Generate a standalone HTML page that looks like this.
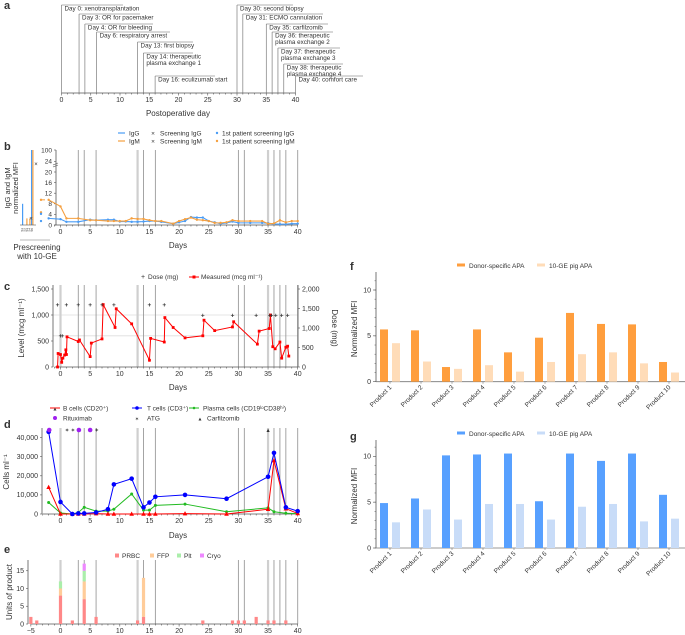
<!DOCTYPE html>
<html><head><meta charset="utf-8">
<style>
html,body{margin:0;padding:0;background:#fff;}
svg{display:block;font-family:"Liberation Sans",sans-serif;}
text{fill:#333;}
</style></head>
<body>
<svg id="fig" width="685" height="635" viewBox="0 0 685 635" xmlns="http://www.w3.org/2000/svg"></svg>
<script>
// ---------- DATA ----------
const eventDays=[0,3,4,6,13,14,16,30,31,35,36,37,38,40];
const eventLabels=[["Day 0: xenotransplantation"],["Day 3: OR for pacemaker"],["Day 4: OR for bleeding"],["Day 6: respiratory arrest"],["Day 13: first biopsy"],["Day 14: therapeutic","plasma exchange 1"],["Day 16: eculizumab start"],["Day 30: second biopsy"],["Day 31: ECMO cannulation"],["Day 35: carfilzomib"],["Day 36: therapeutic","plasma exchange 2"],["Day 37: therapeutic","plasma exchange 3"],["Day 38: therapeutic","plasma exchange 4"],["Day 40: comfort care"]];
const lightDays=[0,13,35];

const igDays=[-2,0,1,3,5,6,8,9,10,11,12,13,14,15,16,17,19,20,21,22,23,24,25,26,27,28,29,30,32,34,35,36,37,38,39,40];
const igG=[2.5,2.2,1.2,1.2,2,1.8,2,2,1.3,1.3,1.2,1.2,1.3,1.5,1.5,1.2,0.5,1,1.5,3,2.8,2.8,1.5,1,0.5,0.8,1.3,0.8,0.8,0.8,0.7,0.4,0.3,0.3,0.5,0.5];
const igM=[9.5,7,2.5,2.5,1.8,1.8,1.5,1.5,1.5,1.5,2.5,2.3,2.3,1.8,1.5,1.5,0.5,1.5,2.2,2.8,2,1.8,1.5,0.8,0.8,1,1.8,1.5,1.5,1.5,0.5,0.6,1.8,1,1.5,1.5];
const preIgG=[8,0,0,100];
const preIgM=[0,2.5,2.5,100];
const bTicks=[0,4,8,12,16,20,24,100];

const doseDays=[-0.5,0,0.3,1,3,5,7,9,15,17.5,24,29,33,35.3,35.6,36.3,37.3,38.3];
const doseVals=[1600,800,800,1600,1600,1600,1600,1600,1600,1600,1333,1333,1333,1333,1333,1333,1333,1333];
const measDays=[-0.5,-0.4,0,0.2,0.4,0.7,0.9,1,1.1,3,3.2,5,5.2,7,7.2,9.2,9.4,12,15,15.2,17.5,17.6,19,21,24,24.2,26,29,29.2,33.2,33.5,35.2,35.4,35.8,36.2,37,37.3,38,38.3,38.5];
const measVals=[0,260,240,90,170,230,330,240,580,490,520,200,460,540,1200,760,1120,830,130,550,480,950,760,560,600,900,700,770,870,440,690,740,1000,390,350,480,170,380,400,210];
const cLeftTicks=[0,500,1000,1500];
const cRightTicks=[0,500,1000,1500,2000];

const cellDays=[-2,0,2,3,4,6,8,9,12,14,15,16,21,28,35,36,38,40];
const tCells=[43000,6300,0,300,300,800,2500,15500,18500,3500,6000,9000,10000,8000,19500,32000,3500,1500];
const bCells=[14000,0,0,0,0,200,0,0,0,0,0,0,200,0,2500,28000,2800,300];
const plasma=[6000,500,0,800,3500,1500,1500,2500,10500,2000,2000,4500,5200,1200,3200,1200,400,200];
const rituxDays=[-1.9,3.1,5];
const atgDays=[1.1,2.1,6.1];
const carfDays=[35];
const dTicks=[0,10000,20000,30000,40000];

const prodDays=[-5,-4,0,2,4,6,13,14,24,29,30,31,33,35,36,38];
const prbc=[2,1,8,1,7,2,1,2,1,1,1,1,2,1,1,1];
const ffp=[0,0,2,0,5,0,0,11,0,0,0,0,0,0,0,0];
const plt=[0,0,2,0,3,0,0,0,0,0,0,0,0,0,0,0];
const cryo=[0,0,0,0,2,0,0,0,0,0,0,0,0,0,0,0];
const eTicks=[0,5,10,15];

const products=["Product 1","Product 2","Product 3","Product 4","Product 5","Product 6","Product 7","Product 8","Product 9","Product 10"];
const fDonor=[5.7,5.6,1.6,5.7,3.2,4.8,7.5,6.3,6.25,2.15];
const fPig=[4.2,2.2,1.4,1.8,1.1,2.15,3.0,3.2,2.0,1.0];
const gDonor=[4.9,5.4,10.1,10.2,10.3,5.1,10.3,9.5,10.3,5.8];
const gPig=[2.8,4.2,3.1,4.8,4.8,3.1,4.5,4.8,2.9,3.2];
const mfiTicks=[0,5,10];

// ---------- HELPERS ----------
const svg=document.getElementById('fig');
const NS='http://www.w3.org/2000/svg';
function mk(tag,at,parent){const e=document.createElementNS(NS,tag);for(const k in at)e.setAttribute(k,at[k]);(parent||svg).appendChild(e);return e;}
function grp(name){const g=document.createElementNS(NS,'g');svg.appendChild(g);return g;}
function txt(g,x,y,s,size,anchor,extra){const t=mk('text',Object.assign({x:x,y:y,'font-size':size||7,'text-anchor':anchor||'start'},extra||{}),g);t.textContent=s;return t;}
function line(g,x1,y1,x2,y2,c,w){return mk('line',{x1:x1,y1:y1,x2:x2,y2:y2,stroke:c||'#555','stroke-width':w||0.8},g);}
function fmt(v){return v.toLocaleString('en-US');}
const X=d=>60.5+d*5.93;

// panel letters
[['a',4,9],['b',4,150],['c',4,290],['d',4,428],['e',4,553],['f',350,270],['g',350,440]].forEach(p=>{
  const t=txt(svg,p[1],p[2],p[0],11,'start',{'font-weight':'bold',fill:'#000'});
  
  
});

// ---------- PANEL A ----------
(function(){
  const g=grp('panel-a-timeline');
  const xa=d=>61.5+d*5.85;
  const axY=93;
  const tops=[5,14,24,32,42,53,76,5,14,24,32,48,64,76];
  const rights=[123,140,153,170,193,193,215,293,323,328,333,340,343,363];
  line(g,xa(0),axY,xa(40),axY,'#555',0.8);
  for(let d=0;d<=40;d++){line(g,xa(d),axY,xa(d),axY+(d%5?1.5:2.5),'#555',0.6);}
  for(let d=0;d<=40;d+=5){txt(g,xa(d),102,String(d),7,'middle');}
  txt(g,178,116,'Postoperative day',8,'middle');
  eventDays.forEach((d,i)=>{
    const x=xa(d);
    const e=mk('g',{},g);
    
    
    line(e,x,axY,x,tops[i],'#666',0.6);
    line(e,x,tops[i],rights[i],tops[i],'#666',0.6);
    eventLabels[i].forEach((s,j)=>txt(e,x+3,tops[i]+5.3+j*6.6,s,6.3));
  });
})();

function vlines(g,y1,y2,skipZero){
  eventDays.forEach(d=>{
    if(skipZero&&d===0)return;
    const light=lightDays.includes(d);
    line(g,X(d),y1,X(d),y2,light?'#cfcfcf':'#9a9a9a',light?2.2:0.9);
  });
}
function xAxis(g,y,from,to,labelStep,labY){
  line(g,X(from),y,X(to),y,'#555',0.8);
  for(let d=Math.ceil(from);d<=to;d++){line(g,X(d),y,X(d),y+(d%5?1.5:2.5),'#555',0.6);}
  for(let d=Math.ceil(from/5)*5;d<=to;d+=labelStep){txt(g,X(d),labY,d<0?'\u2212'+(-d):String(d),7,'middle');}
}

// ---------- PANEL B ----------
(function(){
  const g=grp('panel-b-igg-igm');
  const yb=v=>v<=24?225-v*2.65:161.4-(v-24)/76*11.4;
  vlines(g,150,225,true);
  const lg=mk('g',{},g);
  
  
  line(lg,118,133,125,133,'#4a9cf5',1.2);txt(lg,129,135.5,'IgG',6.5);
  line(lg,118,141,125,141,'#f5a040',1.2);txt(lg,129,143.5,'IgM',6.5);
  txt(lg,153,135.5,'×',6.5,'middle',{fill:'#4a9cf5'});txt(lg,160,135.5,'Screening IgG',6.5);
  txt(lg,153,143.5,'×',6.5,'middle',{fill:'#f5a040'});txt(lg,160,143.5,'Screening IgM',6.5);
  mk('circle',{cx:217,cy:133,r:1.2,fill:'#4a9cf5'},lg);txt(lg,222,135.5,'1st patient screening IgG',6.5);
  mk('circle',{cx:217,cy:141,r:1.2,fill:'#f5a040'},lg);txt(lg,222,143.5,'1st patient screening IgM',6.5);
  line(g,56,150,56,225,'#555',0.8);
  bTicks.forEach(t=>{line(g,54,yb(t),56,yb(t),'#555',0.6);txt(g,52,yb(t)+2.3,String(t),6.5,'end');});
  line(g,53,165,58,163,'#555',0.6);line(g,53,167,58,165,'#555',0.6);
  xAxis(g,225,-1,40,5,234);
  txt(g,178,248,'Days',8,'middle');
  txt(g,0,0,'IgG and IgM',7.5,'middle',{transform:'translate(10,188) rotate(-90)'});
  txt(g,0,0,'normalized MFI',7.5,'middle',{transform:'translate(18,188) rotate(-90)'});
  preIgG.forEach((v,i)=>{if(v>0){const r=mk('rect',{x:22+i*3,y:yb(v),width:1.2,height:225-yb(v),fill:'#4a9cf5'},g);}});
  preIgM.forEach((v,i)=>{if(v>0){const r=mk('rect',{x:23.3+i*3,y:yb(v),width:1.2,height:225-yb(v),fill:'#f5a040'},g);}});
  line(g,20,225,36,225,'#555',0.6);
  ['S1','S2','S3','S4','S5'].forEach((s,i)=>txt(g,0,0,s,3,'end',{transform:'translate('+(23+i*2.5)+',228) rotate(-90)',fill:'#666'}));
  txt(g,36,yb(23)+2,'×',6,'middle',{fill:'#4a9cf5'});
  txt(g,31,yb(2.5)+2,'×',6,'middle',{fill:'#f5a040'});
  [[41,9.5,'#f5a040'],[41,4.8,'#f5a040'],[41,4.2,'#4a9cf5'],[41,1.5,'#4a9cf5']].forEach(p=>mk('circle',{cx:p[0],cy:yb(p[1]),r:1.2,fill:p[2]},g));
  line(g,40,yb(9.5),45,yb(9.5),'#f5a040',1);
  line(g,20,240,50,240,'#777',0.6);
  txt(g,37,250,'Prescreening',8,'middle');
  txt(g,37,259,'with 10-GE',8,'middle');
  function series(vals,color,name){
    const pts=igDays.map((d,i)=>X(d)+','+yb(vals[i])).join(' ');
    const p=mk('polyline',{points:pts,fill:'none',stroke:color,'stroke-width':1.1},g);
    
    igDays.forEach((d,i)=>mk('circle',{cx:X(d),cy:yb(vals[i]),r:1.2,fill:color},g));
  }
  series(igG,'#4a9cf5','igg');
  series(igM,'#f5a040','igm');
})();

// ---------- PANEL C ----------
(function(){
  const g=grp('panel-c-levels');
  const yL=v=>367-v*0.052, yR=v=>367-v*0.039;
  line(g,53,yL(1000),298,yL(1000),'#ddd',0.8);
  line(g,53,yL(600),298,yL(600),'#ddd',0.8);
  vlines(g,285,367,false);
  line(g,53,285,53,367,'#555',0.8);
  line(g,298,285,298,367,'#555',0.8);
  cLeftTicks.forEach(t=>{line(g,51,yL(t),53,yL(t),'#555',0.6);txt(g,49,yL(t)+2.3,fmt(t),7,'end');});
  cRightTicks.forEach(t=>{line(g,298,yR(t),300,yR(t),'#555',0.6);txt(g,302,yR(t)+2.3,fmt(t),7,'start');});
  xAxis(g,367,-1,40,5,376);
  txt(g,178,390,'Days',8,'middle');
  txt(g,0,0,'Level (mcg ml\u207B\u00B9)',8,'middle',{transform:'translate(24,328) rotate(-90)'});
  txt(g,0,0,'Dose (mg)',8,'middle',{transform:'translate(332,328) rotate(90)'});
  const lg=mk('g',{},g);
  txt(lg,143,279,'+',7,'middle',{fill:'#00f'});txt(lg,148,279,'Dose (mg)',6.5);
  line(lg,189,277,199,277,'#f00',1);mk('rect',{x:192.5,y:275.5,width:3,height:3,fill:'#f00'},lg);txt(lg,201,279,'Measured (mcg ml\u207B\u00B9)',6.5);
  const pts=measDays.map((d,i)=>X(d)+','+yL(measVals[i])).join(' ');
  const p=mk('polyline',{points:pts,fill:'none',stroke:'#f00','stroke-width':1},g);
  
  measDays.forEach((d,i)=>mk('rect',{x:X(d)-1.4,y:yL(measVals[i])-1.4,width:2.8,height:2.8,fill:'#f00'},g));
  doseDays.forEach((d,i)=>{const t=txt(g,X(d),yR(doseVals[i])+2.3,'+',6.5,'middle',{fill:'#00f','font-weight':'bold'});});
})();

// ---------- PANEL D ----------
(function(){
  const g=grp('panel-d-cells');
  const yd=v=>514-v*0.00191;
  vlines(g,428,514,false);
  line(g,42,428,42,514,'#555',0.8);
  dTicks.forEach(t=>{line(g,40,yd(t),42,yd(t),'#555',0.6);txt(g,38,yd(t)+2.3,fmt(t),7,'end');});
  xAxis(g,514,-3,40,5,523);
  txt(g,178,538,'Days',8,'middle');
  txt(g,0,0,'Cells ml\u207B\u00B9',8,'middle',{transform:'translate(9,472) rotate(-90)'});
  const lg=mk('g',{},g);
  line(lg,50,408,60,408,'#f00',1);txt(lg,55,410.5,'\u25B2',5,'middle',{fill:'#f00'});txt(lg,63,410.5,'B cells (CD20\u207A)',6.5);
  line(lg,132,408,142,408,'#00f',1);mk('circle',{cx:137,cy:408,r:1.8,fill:'#00f'},lg);txt(lg,147,410.5,'T cells (CD3\u207A)',6.5);
  line(lg,189,408,199,408,'#2b2',1);mk('circle',{cx:194,cy:408,r:1.3,fill:'#2b2'},lg);txt(lg,203,410.5,'Plasma cells (CD19\u02E1\u1D52CD38\u02B0\u2071)',6.5);
  mk('circle',{cx:55,cy:418,r:2,fill:'#a020f0'},lg);txt(lg,63,420.5,'Rituximab',6.5);
  txt(lg,137,420.5,'\u2736',5,'middle',{fill:'#f90'});txt(lg,147,420.5,'ATG',6.5);
  txt(lg,200,420.5,'\u25B2',5,'middle',{fill:'#000'});txt(lg,207,420.5,'Carfilzomib',6.5);
  function series(vals,color,shape,name){
    const p=mk('polyline',{points:cellDays.map((d,i)=>X(d)+','+yd(vals[i])).join(' '),fill:'none',stroke:color,'stroke-width':1},g);
    
    cellDays.forEach((d,i)=>{
      const x=X(d),y=yd(vals[i]);
      if(shape==='c')mk('circle',{cx:x,cy:y,r:2.3,fill:color},g);
      else if(shape==='t')mk('polygon',{points:(x)+','+(y-2.5)+' '+(x-2.3)+','+(y+1.8)+' '+(x+2.3)+','+(y+1.8),fill:color},g);
      else mk('circle',{cx:x,cy:y,r:1.5,fill:color},g);
    });
  }
  series(plasma,'#2b2','s','plasma-cells');
  series(bCells,'#f00','t','b-cells');
  series(tCells,'#00f','c','t-cells');
  rituxDays.forEach(d=>mk('circle',{cx:X(d),cy:430,r:2.3,fill:'#a020f0'},g));
  atgDays.forEach(d=>txt(g,X(d),432,'\u2736',5.5,'middle',{fill:'#f90'}));
  carfDays.forEach(d=>txt(g,X(d),432,'\u25B2',5.5,'middle',{fill:'#000'}));
})();

// ---------- PANEL E ----------
(function(){
  const g=grp('panel-e-products');
  const ye=v=>624-v*3.55;
  vlines(g,560,624,false);
  line(g,28,560,28,624,'#555',0.8);
  eTicks.forEach(t=>{line(g,26,ye(t),28,ye(t),'#555',0.6);txt(g,24,ye(t)+2.3,String(t),7,'end');});
  xAxis(g,624,-5,40,5,633);
  txt(g,0,0,'Units of product',8,'middle',{transform:'translate(12,592) rotate(-90)'});
  const cols=['#f88','#fc9','#aea','#e8f'];
  const names=['PRBC','FFP','Plt','Cryo'];
  const lx=[115,150,177,200];
  names.forEach((n,i)=>{mk('rect',{x:lx[i],y:553.5,width:4,height:4,fill:cols[i]},g);txt(g,lx[i]+7,558,n,6.5);});
  const stacks=[prbc,ffp,plt,cryo];
  prodDays.forEach((d,i)=>{
    let base=0;
    stacks.forEach((s,k)=>{
      if(s[i]>0){
        const r=mk('rect',{x:X(d)-1.6,y:ye(base+s[i]),width:3.2,height:ye(base)-ye(base+s[i]),fill:cols[k]},g);
        
        
        base+=s[i];
      }
    });
  });
})();

// ---------- PANELS F & G ----------
function barPanel(name,y0,yTop,donor,pig,cDark,cLight,legY){
  const g=grp(name);
  const sc=9.17;
  const y=v=>y0-v*sc;
  line(g,376,yTop,376,y0,'#555',0.8);
  line(g,376,y0,685,y0,'#777',0.8);
  for(let v=0;v<=11;v++)line(g,374.5,y(v),376,y(v),'#555',0.5);
  mfiTicks.forEach(t=>{line(g,373,y(t),376,y(t),'#555',0.6);txt(g,371,y(t)+2.3,String(t),7,'end');});
  txt(g,0,0,'Normalized MFI',8,'middle',{transform:'translate(357,'+((yTop+y0)/2+2)+') rotate(-90)'});
  products.forEach((p,i)=>{
    const x=380+i*31;
    const a=mk('rect',{x:x,y:y(donor[i]),width:8,height:donor[i]*sc,fill:cDark},g);
    
    const b=mk('rect',{x:x+12,y:y(pig[i]),width:8,height:pig[i]*sc,fill:cLight},g);
    
    line(g,x+10,y0,x+10,y0+2,'#777',0.6);
    txt(g,0,0,p,6.5,'end',{transform:'translate('+(x+12)+','+(y0+6)+') rotate(-45)'});
  });
  const lg=mk('g',{},g);
  mk('rect',{x:457,y:legY-2.5,width:8,height:3,fill:cDark},lg);txt(lg,469,legY+2,'Donor-specific APA',6.5);
  mk('rect',{x:537,y:legY-2.5,width:8,height:3,fill:cLight},lg);txt(lg,549,legY+2,'10-GE pig APA',6.5);
}
barPanel('panel-f-bars',381.7,272,fDonor,fPig,'#ff9e3d','#ffdcb8',266);
barPanel('panel-g-bars',548,440,gDonor,gPig,'#57a0ff','#c8dcf8',434);
</script>
</body></html>
